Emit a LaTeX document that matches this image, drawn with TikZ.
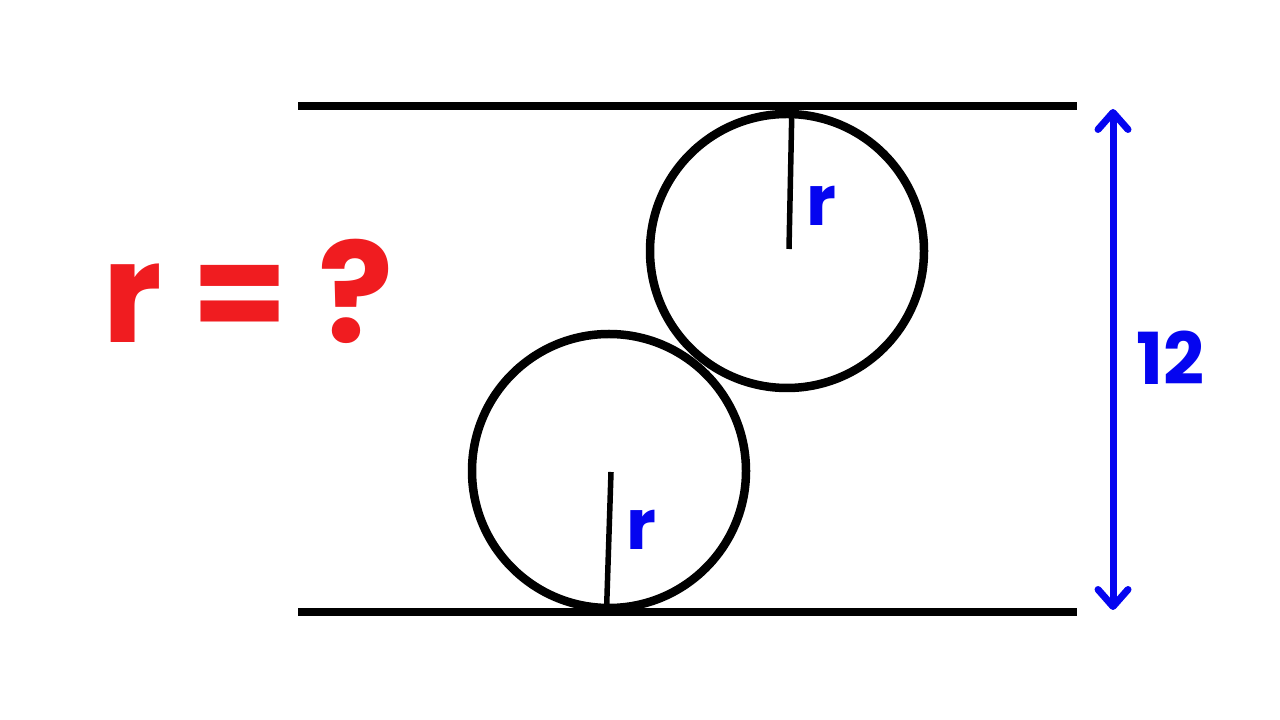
\documentclass[tikz,border=0pt]{standalone}
\usepackage{fontspec}
\setmainfont{Poppins}
\usepackage{tikz}
\usetikzlibrary{arrows.meta}
\usetikzlibrary{positioning}
\definecolor{qred}{RGB}{240,28,32}
\definecolor{qblue}{RGB}{5,5,240}
\tikzset{
  ring/.style={draw,circle,line width=8.5bp,minimum size=274bp,inner sep=0pt,outer sep=0pt},
  wall/.style={line width=7.5bp},
  radius/.style={line width=5.5bp},
  rlabel/.style={text=qblue,font=\fontsize{70}{70}\selectfont\bfseries,inner sep=0pt,anchor=base}
}
\begin{document}
\begin{tikzpicture}[line join=bevel]
%%
\useasboundingbox (0bp,0bp) rectangle (1280bp,720bp);
\draw [wall] (298bp,614bp) -- (1077bp,614bp);
\draw [wall] (298bp,108bp) -- (1077bp,108bp);
  \node (U) at (787bp,469bp) [ring] {};
  \node (L) at (609bp,249bp) [ring] {};
  \coordinate (Uc) at (789bp,471bp);
  \coordinate (Lc) at (611bp,248bp);
  \draw [radius] (Uc) -- (U.88);
  \draw [radius] (Lc) -- (L.269);
  \node (Ur) at (821bp,494bp) [rlabel] {r};
  \node (Lr) at (641bp,170bp) [rlabel] {r};
  \coordinate (Atop) at (1113bp,611bp);
  \coordinate (Abot) at (1113bp,110bp);
  \draw [qblue,line width=7bp,{Straight Barb[length=17bp,width=30bp,round]}-{Straight Barb[length=17bp,width=30bp,round]}] (Abot) -- (Atop);
  \node (H) at (1170bp,362bp) [text=qblue,font=\fontsize{72}{72}\selectfont\bfseries,inner sep=0pt] {12};
  \node (Q) at (248bp,377bp) [text=qred,font=\fontsize{140}{140}\selectfont\bfseries,inner sep=0pt,anchor=base] {r = ?};
%
\end{tikzpicture}
\end{document}
